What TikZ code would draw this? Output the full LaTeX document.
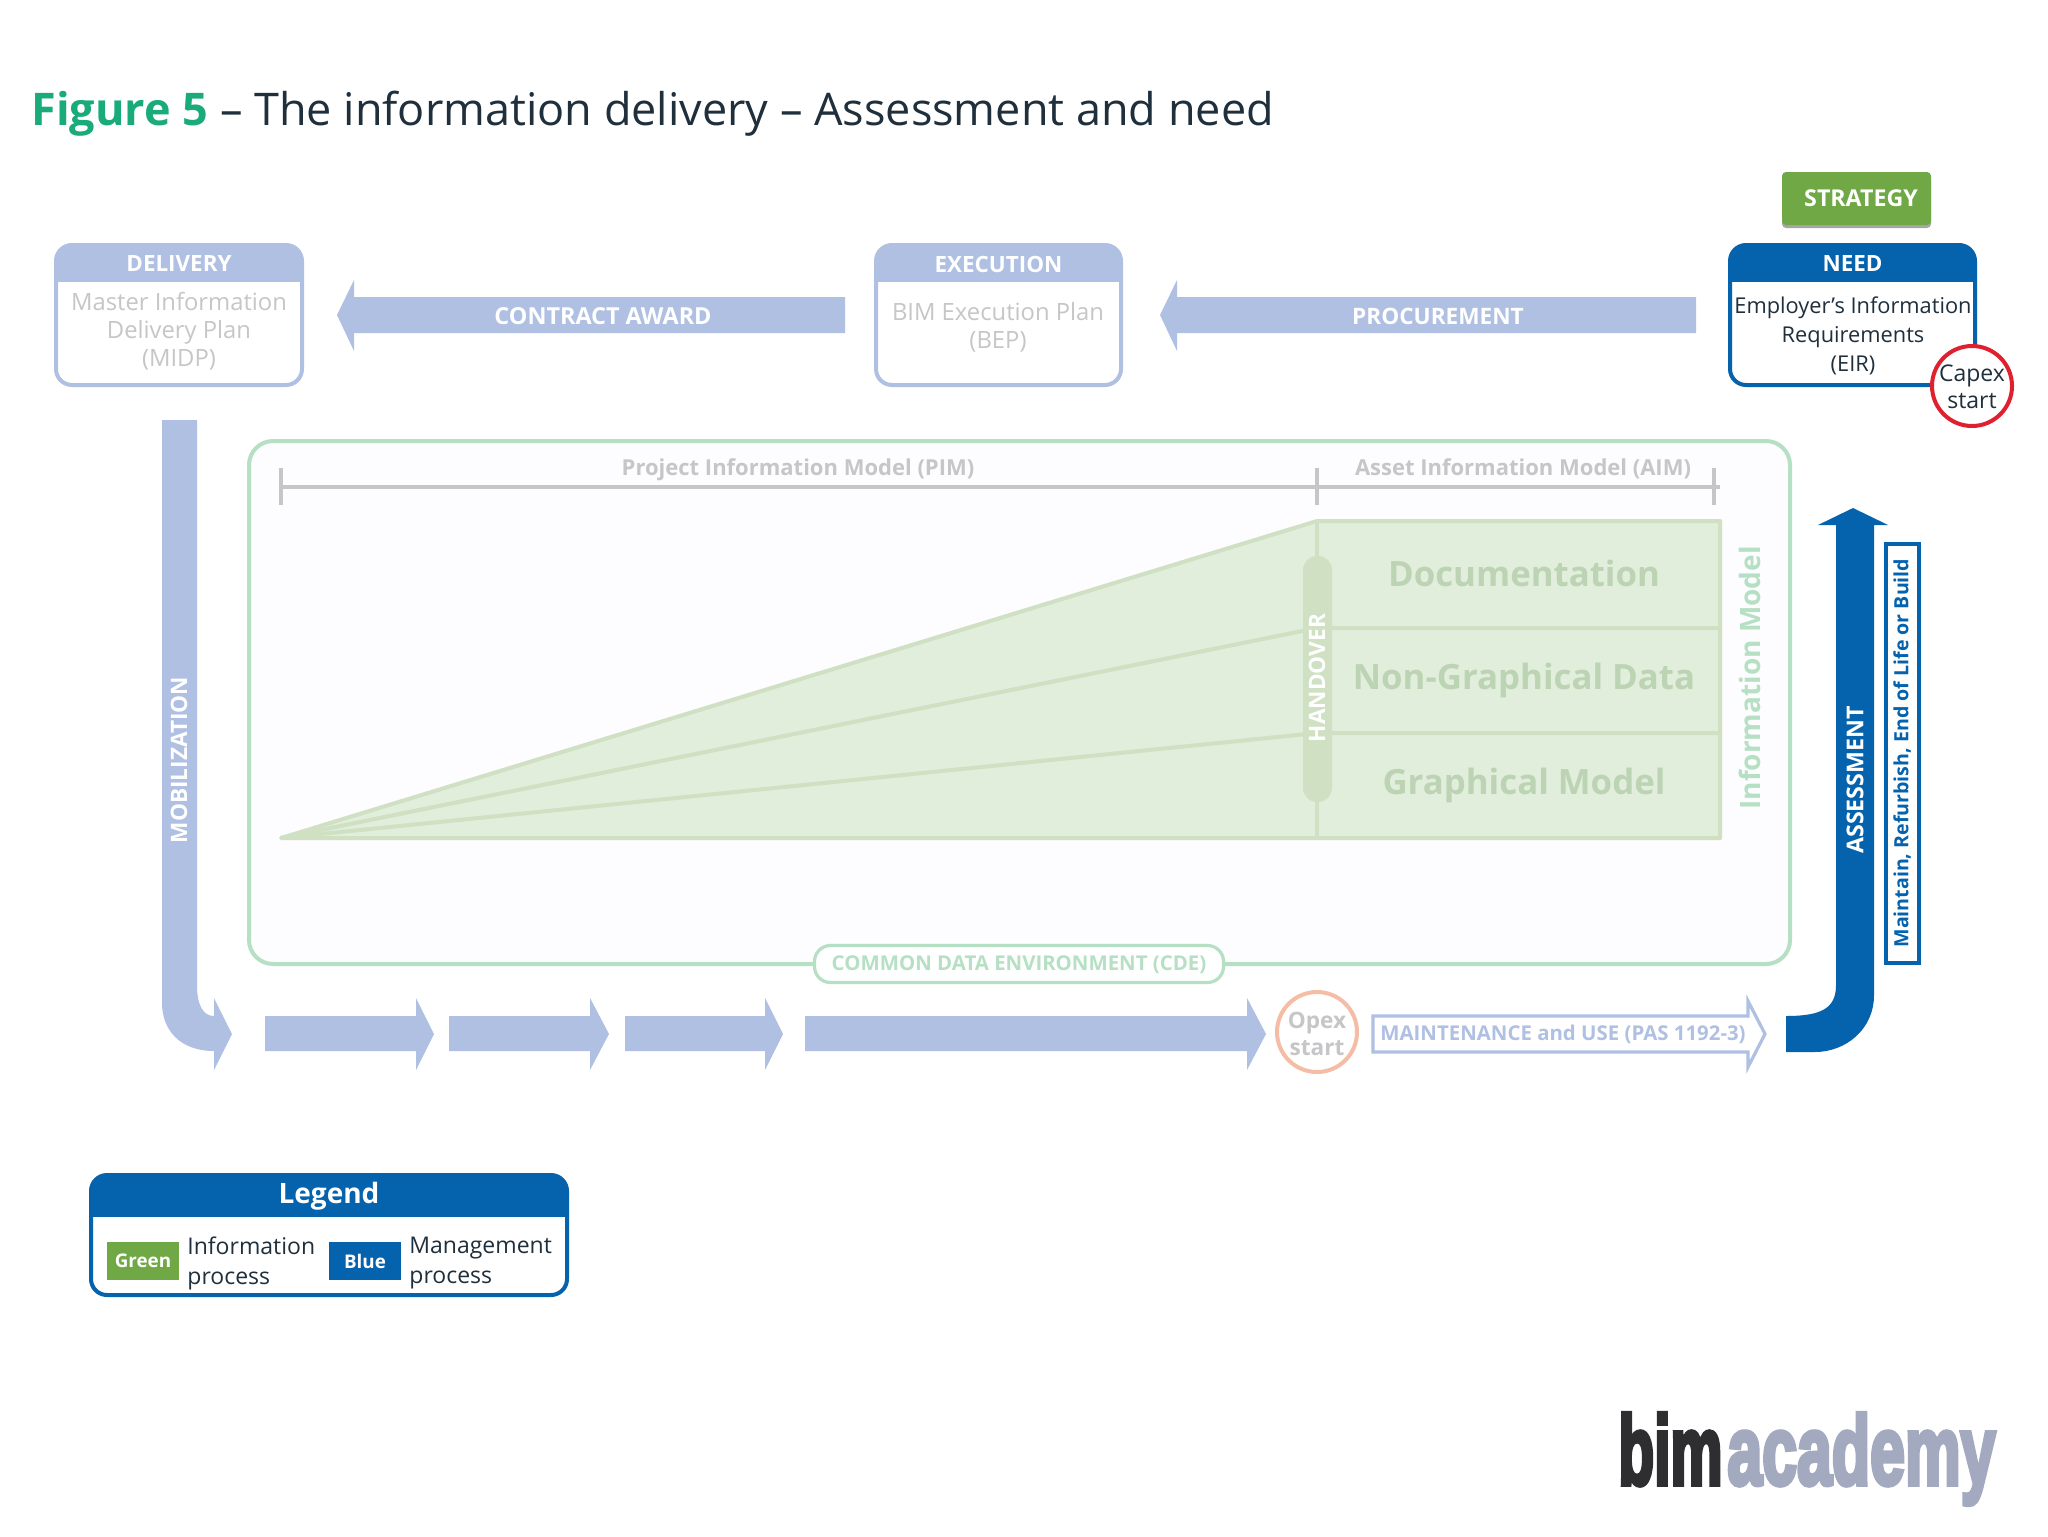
\documentclass[tikz,border=0pt]{standalone}
\usepackage{fontspec}
\setmainfont{Open Sans}
\newfontfamily\logofont[BoldFeatures={FakeBold=5}]{Liberation Sans}
\definecolor{lb}{HTML}{B0C0E3}
\definecolor{mb}{HTML}{0563AE}
\definecolor{gt}{HTML}{C6C6C8}
\definecolor{cde}{HTML}{B5E0C3}
\definecolor{cdefill}{HTML}{FDFCFE}
\definecolor{wedge}{HTML}{E0EEDB}
\definecolor{wedgeline}{HTML}{CFE0C3}
\definecolor{wedgetext}{HTML}{BCD4B4}
\definecolor{stg}{HTML}{6FA844}
\definecolor{ttl}{HTML}{1F2F3C}
\definecolor{ttg}{HTML}{1AAB7A}
\definecolor{capred}{HTML}{E0202F}
\definecolor{opexring}{HTML}{F5BDA5}
\definecolor{logogray}{HTML}{A3AAC0}
\definecolor{logodark}{HTML}{2E2E30}
\newcommand{\fsz}[1]{\fontsize{#1}{#1}\selectfont}
\tikzset{
  x=0.5pt,y=-0.5pt,
  framebox/.style={rounded corners=8pt,line width=2pt},
  bodytext/.style={align=center,inner sep=0,font=\fontsize{11.9}{14}\selectfont},
  headtext/.style={inner sep=0,text=white,font=\bfseries\fsz{11.2}},
  banner/.style={inner sep=0,text=white,font=\bfseries\fsz{11.3}},
  blockarrow/.style={fill=lb,draw=none},
  modeltext/.style={inner sep=0,text=wedgetext,font=\bfseries\fsz{17.4}},
  wedgeedge/.style={draw=wedgeline,line width=2pt,line join=round},
  ticks/.style={draw=gt,line width=1.6pt},
  ringtext/.style={align=center,inner sep=0,font=\fontsize{11.5}{13.5}\selectfont},
  legendtext/.style={align=left,inner sep=0,font=\fontsize{11.5}{15}\selectfont}
}
% x0 x1 colour name title
\newcommand{\headbox}[5]{%
  \begin{scope}
    \clip[rounded corners=8pt] (#1,245) rectangle (#2,385);
    \fill[#3] (#1,245) rectangle (#2,282);
  \end{scope}
  \draw[framebox,draw=#3] (#1,245) rectangle (#2,385);
  \node[headtext] (#4) at ({(#1+#2)/2},264) {#5};
}
\newcommand{\rightarrowblock}[3]{%
  \path[blockarrow] (#1,1016) -- (#2,1016) -- (#2,998) -- (#3,1034) -- (#2,1070) -- (#2,1051) -- (#1,1051) -- cycle;
}
\begin{document}
\begin{tikzpicture}
\useasboundingbox (0,0) rectangle (2048,1536);
\fill[white] (0,0) rectangle (2048,1536);

% title
\node[anchor=base west,inner sep=0,text=ttl,font=\fsz{22.5}] (title) at (31,126) {\textcolor{ttg}{\bfseries Figure 5} -- The information delivery -- Assessment and need};

% strategy
\fill[gray!70,rounded corners=2pt] (1782,176) rectangle (1931,228);
\fill[stg,rounded corners=2pt] (1782,172) rectangle (1931,225);
\node[headtext,font=\bfseries\fsz{11.6}] (strategy) at (1861,198) {STRATEGY};

% top boxes
\headbox{56}{302}{lb}{delivery}{DELIVERY}
\node[bodytext,text=gt] (midp) at (179,331) {Master Information\\Delivery Plan\\(MIDP)};
\headbox{876}{1121}{lb}{execution}{EXECUTION}
\node[bodytext,text=gt] (bep) at (998,327) {BIM Execution Plan\\(BEP)};
\headbox{1730}{1975}{mb}{need}{NEED}
\node[bodytext,text=ttl,font=\fontsize{10.9}{14.5}\selectfont] (eir) at (1853,336) {Employer’s Information\\Requirements\\(EIR)};
\node[circle,draw=capred,fill=white,line width=2pt,minimum size=80*0.5pt,inner sep=0] (capexring) at (1972,386) {};
\node[ringtext,text=ttl] (capex) at (1972,387) {Capex\\start};

% top arrows
\path[blockarrow] (845,297) -- (354,297) -- (354,280) -- (337,315) -- (354,351) -- (354,333) -- (845,333) -- cycle;
\node[banner,font=\bfseries\fsz{11.7}] (award) at (603,316) {CONTRACT AWARD};
\path[blockarrow] (1696,297) -- (1177,297) -- (1177,280) -- (1160,315) -- (1177,351) -- (1177,333) -- (1696,333) -- cycle;
\node[banner] (procurement) at (1438,316) {PROCUREMENT};

% CDE
\draw[draw=cde,fill=cdefill,rounded corners=12pt,line width=2pt] (249,441) rectangle (1790,964);

% bar
\draw[ticks] (281,487) -- (1720,487);
\draw[ticks] (281,468) -- (281,505);
\draw[ticks] (1317,468) -- (1317,505);
\draw[ticks] (1714,468) -- (1714,505);
\node[inner sep=0,text=gt,font=\bfseries\fsz{11}] (pim) at (798,470) {Project Information Model (PIM)};
\node[inner sep=0,text=gt,font=\bfseries\fsz{11}] (aim) at (1523,469) {Asset Information Model (AIM)};

% wedge
\path[fill=wedge] (281,838) -- (1317,521) -- (1720,521) -- (1720,838) -- cycle;
\path[wedgeedge] (281,838) -- (1317,521) -- (1720,521) -- (1720,838) -- cycle;
\draw[wedgeedge] (1317,521) -- (1317,838);
\draw[wedgeedge] (281,838) -- (1317,628) -- (1720,628);
\draw[wedgeedge] (281,838) -- (1317,733) -- (1720,733);
\node[fill=wedgeline,rounded corners=7pt,minimum width=29*0.5pt,minimum height=246*0.5pt,inner sep=0] (handbar) at (1317.5,679) {};
\node[rotate=90,inner sep=0,text=white,font=\bfseries\fsz{11.3}] (handover) at (1317,678) {HANDOVER};
\node[modeltext] (doc) at (1524,573) {Documentation};
\node[modeltext] (nongr) at (1524,680) {Non-Graphical Data};
\node[modeltext] (graph) at (1524,785) {Graphical Model};
\node[rotate=90,inner sep=0,text=cde,font=\bfseries\fsz{14}] (infomodel) at (1750,678) {Information Model};

% CDE pill
\node[draw=cde,fill=white,rounded corners=8pt,line width=1.6pt,minimum width=409*0.5pt,minimum height=37*0.5pt,inner sep=0] (cdepill) at (1019,964) {};
\node[inner sep=0,text=cde,font=\bfseries\fsz{10.2}] (cdetext) at (1019,965) {COMMON DATA ENVIRONMENT (CDE)};

% mobilization
\path[blockarrow] (162,420) -- (197,420) -- (197,985) .. controls (197,1005) and (203,1016) .. (214,1016) -- (214,998) -- (232,1034) -- (214,1070) -- (214,1051) .. controls (180,1051) and (162,1030) .. (162,1003) -- cycle;
\node[rotate=90,banner] (mobil) at (179,760) {MOBILIZATION};

% flow arrows
\rightarrowblock{265}{416}{434}
\rightarrowblock{449}{590}{609}
\rightarrowblock{625}{765}{783}
\rightarrowblock{805}{1247}{1266}

% opex
\node[circle,draw=opexring,fill=white,line width=2pt,minimum size=80*0.5pt,inner sep=0] (opexcircle) at (1317,1032) {};
\node[ringtext,text=gt,font=\bfseries\fontsize{11.3}{13.5}\selectfont] (opex) at (1317,1034) {Opex\\start};

% maintenance
\path[draw=lb,fill=white,line width=1.6pt,line join=miter] (1373,1016) -- (1748,1016) -- (1748,1001) -- (1765,1034) -- (1748,1067) -- (1748,1052) -- (1373,1052) -- cycle;
\node[inner sep=0,text=lb,font=\bfseries\fsz{10.2}] (maint) at (1563,1034) {MAINTENANCE and USE (PAS 1192-3)};

% assessment
\path[fill=mb] (1786,1016) .. controls (1822,1016) and (1836,1008) .. (1836,985) -- (1836,525) -- (1818,525) -- (1853,508) -- (1888,525) -- (1874,525) -- (1874,995) .. controls (1874,1030) and (1845,1052) .. (1815,1052) -- (1786,1052) -- cycle;
\node[rotate=90,banner,font=\bfseries\fsz{11.6}] (assess) at (1855,780) {ASSESSMENT};
\node[draw=mb,fill=white,line width=1.6pt,minimum width=33*0.5pt,minimum height=419*0.5pt,inner sep=0] (sidebox) at (1902.5,753.5) {};
\node[rotate=90,inner sep=0,text=mb,font=\bfseries\fsz{9.8}] (sidetext) at (1902,753) {Maintain, Refurbish, End of Life or Build};

% legend
\begin{scope}
  \clip[rounded corners=8pt] (91,1175) rectangle (567,1295);
  \fill[mb] (91,1175) rectangle (567,1217);
\end{scope}
\draw[framebox,draw=mb] (91,1175) rectangle (567,1295);
\node[inner sep=0,text=white,font=\bfseries\fsz{14}] (legend) at (329,1196) {Legend};
\node[fill=stg,text=white,font=\bfseries\fsz{9.4},minimum width=72*0.5pt,minimum height=38*0.5pt,inner sep=0] (green) at (143,1261) {Green};
\node[legendtext,anchor=west,text=ttl] (infop) at (187,1263) {Information\\process};
\node[fill=mb,text=white,font=\bfseries\fsz{9.4},minimum width=72*0.5pt,minimum height=38*0.5pt,inner sep=0] (blue) at (365,1261) {Blue};
\node[legendtext,anchor=west,text=ttl] (mgmt) at (409,1263) {Management\\process};

% logo
\node[anchor=north west,inner sep=0,text=logodark] (bim) at (1618,1413) {\resizebox{52pt}{35.5pt}{\logofont\bfseries bim}};
\node[anchor=north west,inner sep=0,text=logogray] (academy) at (1727,1413) {\resizebox{134pt}{35.5pt}{\logofont\bfseries academy}};
\end{tikzpicture}
\end{document}
